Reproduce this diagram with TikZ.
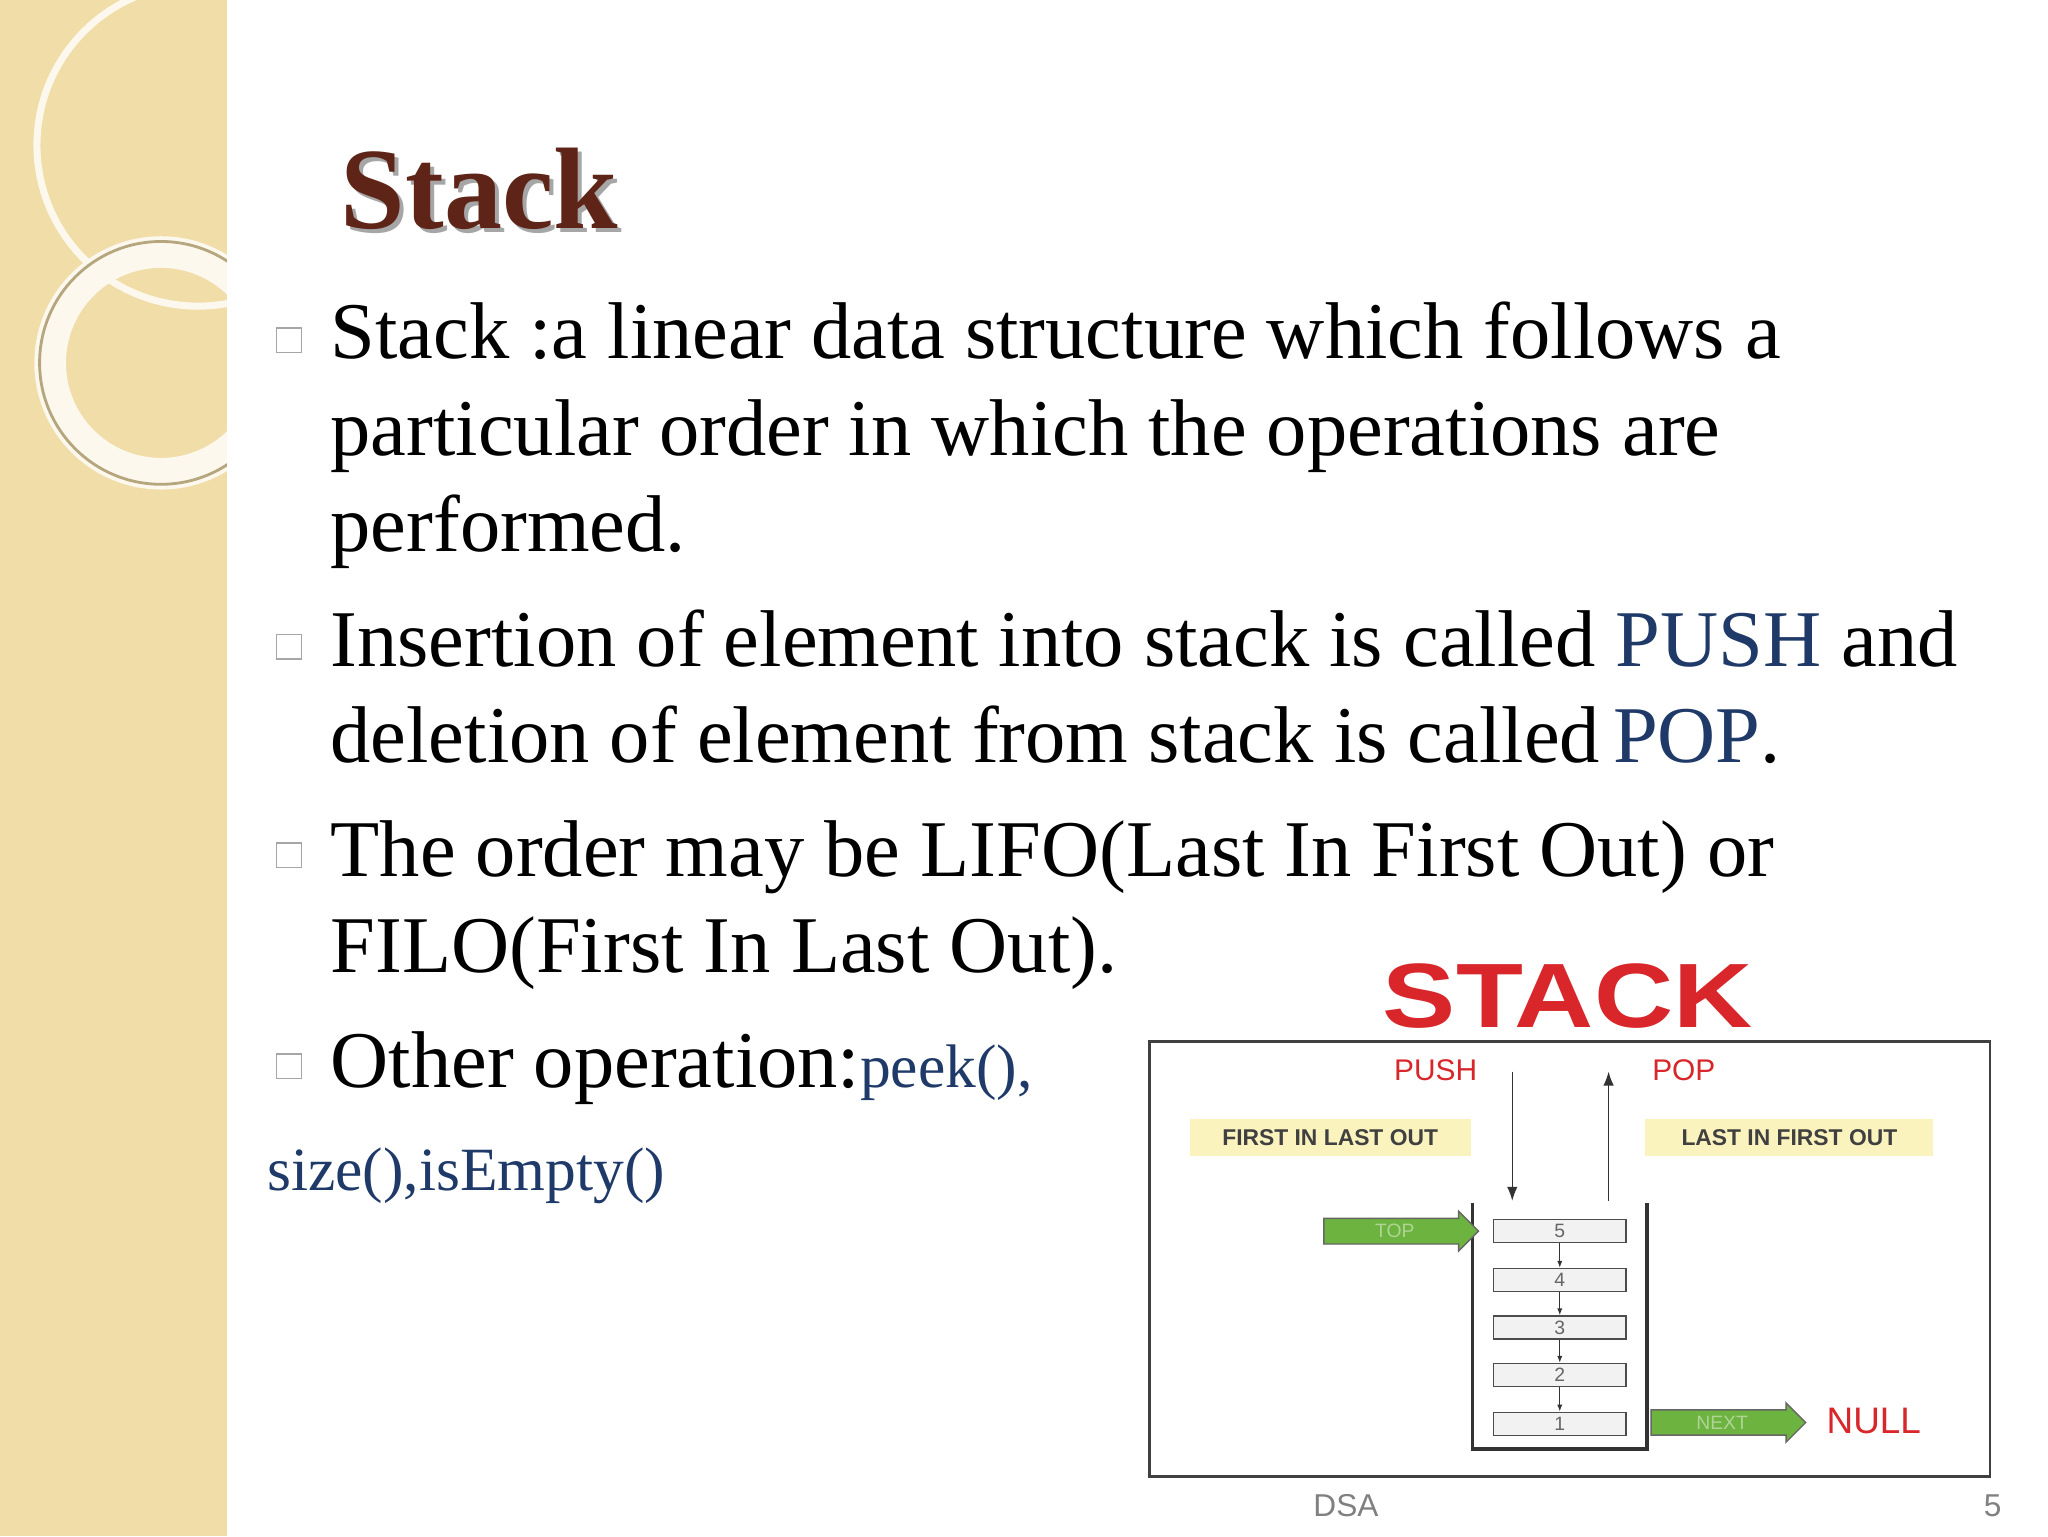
\documentclass[tikz,border=0pt]{standalone}
\usepackage{fontspec}
\setmainfont{Liberation Serif}
\newfontfamily\sans{Liberation Sans}
\usetikzlibrary{arrows.meta,shapes.arrows}
\definecolor{beige}{HTML}{F1DDA8}
\definecolor{titlec}{HTML}{5E2417}
\definecolor{bluet}{HTML}{1F3A68}
\definecolor{stackred}{HTML}{D8262B}
\definecolor{lab}{HTML}{FBF3BE}
\definecolor{grn}{HTML}{6DB33F}
\tikzset{
 body/.style={anchor=base west,inner sep=0pt,font=\fontsize{22.9}{28}\selectfont},
 bul/.style={draw=gray!70,line width=0.4pt,minimum size=7pt,inner sep=0pt},
 lbl/.style={fill=lab,inner sep=3pt,minimum width=#1,font=\sans\bfseries\fontsize{6.5}{7}\selectfont,text=black!75},
 cell/.style={draw=black!70,fill=gray!10,minimum width=37.8pt,minimum height=6.5pt,inner sep=0pt,font=\sans\fontsize{5.5}{5}\selectfont,text=gray!80!black},
 garrow/.style={single arrow,fill=grn,draw=black!60,minimum height=#1,minimum width=9pt,single arrow head extend=2pt,inner sep=1.5pt,font=\sans\fontsize{5.5}{5}\selectfont,text=grn!55!white},
 red/.style={text=stackred,font=\sans\fontsize{8.5}{9}\selectfont},
}
\begin{document}
\begin{tikzpicture}[x=0.0132cm,y=-0.0132cm]
\useasboundingbox (0,0) rectangle (1552,1164);
\fill[white] (0,0) rectangle (1552,1164);
\fill[beige] (0,0) rectangle (172,1164);
\begin{scope}
\clip (0,0) rectangle (172,1164);
\draw[white,line width=2pt,opacity=0.8] (150,110) circle (122);
\draw[white!80!beige,line width=9pt] (122,275) circle (84);
\draw[beige!75!black,line width=0.8pt] (122,275) circle (92);
\end{scope}
\node[anchor=base west,text=black!35,font=\fontsize{33}{36}\selectfont\bfseries] at (252,176) {Stack};
\node[anchor=base west,text=titlec,font=\fontsize{33}{36}\selectfont\bfseries] (title) at (249,173) {Stack};
\foreach \y/\n in {258/b1,490/b2,648/b3,808/b4} \node[bul] (\n) at (219,\y) {};
\node[body] (l1) at (250,272) {Stack :a linear data structure which follows a};
\node[body] (l2) at (250,345) {particular order in which the operations are};
\node[body] (l3) at (250,418) {performed.};
\node[body] (l4) at (250,505) {Insertion of element into stack is called \textcolor{bluet}{PUSH} and};
\node[body] (l5) at (250,578) {deletion of element from stack is called\,\textcolor{bluet}{POP}.};
\node[body] (l6) at (250,664) {The order may be LIFO(Last In First Out) or};
\node[body] (l7) at (250,737) {FILO(First In Last Out).};
\node[body] (l8) at (250,824) {Other operation:\textcolor{bluet}{\fontsize{17.5}{20}\selectfont peek(),}};
\node[body,text=bluet,font=\fontsize{17.5}{20}\selectfont] (l9) at (202,902) {size(),isEmpty()};
% diagram
\node[text=stackred,font=\sans\bfseries\fontsize{26}{26}\selectfont,xscale=1.2] (st) at (1188,755) {STACK};
\draw[black!75,line width=0.8pt] (871,789) rectangle (1508,1119);
\node[red] (push) at (1088,811) {PUSH};
\node[red] (pop) at (1276,811) {POP};
\node[lbl=80pt] (fi) at (1008,862) {FIRST IN LAST OUT};
\node[lbl=82pt] (li) at (1356,862) {LAST IN FIRST OUT};
\coordinate (pa) at (1146,812); \coordinate (pb) at (1146,910);
\draw[-{Latex[length=4pt]},black!80] (pa) -- (pb);
\coordinate (qa) at (1219,910); \coordinate (qb) at (1219,812);
\draw[-{Latex[length=4pt]},black!80] (qa) -- (qb);
\coordinate (c1) at (1116,912); \coordinate (c2) at (1116,1098); \coordinate (c3) at (1248,1098); \coordinate (c4) at (1248,912);
\draw[black!80,line width=1pt] (c1) -- (c2) -- (c3) -- (c4);
\foreach \i/\y in {5/933,4/970,3/1006,2/1042,1/1079} \node[cell] (s\i) at (1182,\y) {\i};
\foreach \a/\b in {5/4,4/3,3/2,2/1} \draw[-{Latex[length=2pt]},black!80] (s\a) -- (s\b);
\node[garrow=44pt] (top) at (1057,933) {TOP\hspace{8pt}};
\node[garrow=44pt] (next) at (1305,1078) {NEXT\hspace{8pt}};
\node[text=stackred,font=\sans\fontsize{10.5}{10}\selectfont] (null) at (1420,1077) {NULL};
\node[text=gray,font=\sans\fontsize{9}{9}\selectfont] (dsa) at (1020,1141) {DSA};
\node[text=gray,font=\sans\fontsize{9}{9}\selectfont] (pg) at (1510,1141) {5};
\end{tikzpicture}
\end{document}
